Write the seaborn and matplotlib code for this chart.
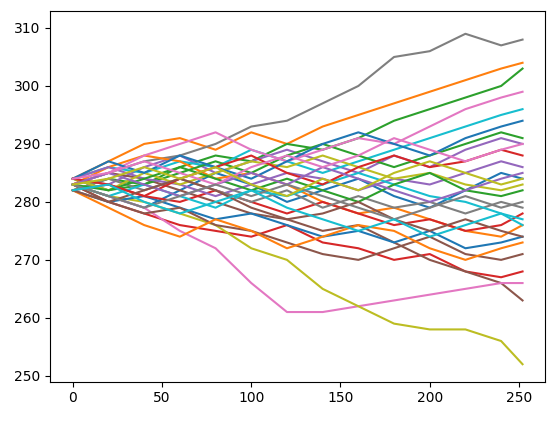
import matplotlib
matplotlib.use("Agg")
import matplotlib.pyplot as plt
import seaborn as sns
import pandas as pd

steps = [0, 20, 40, 60, 80, 100, 120, 140, 160, 180, 200, 220, 240, 252]

# price paths (one list per simulated path)
paths = [
    [283, 281, 279, 282, 285, 283, 280, 282, 284, 281, 279, 282, 285, 284],
    [284, 287, 290, 291, 289, 292, 290, 293, 295, 297, 299, 301, 303, 304],
    [282, 284, 283, 286, 288, 287, 290, 289, 291, 294, 296, 298, 300, 303],
    [283, 280, 278, 276, 275, 274, 276, 273, 272, 270, 271, 268, 267, 268],
    [284, 283, 286, 288, 285, 287, 289, 287, 285, 288, 286, 289, 291, 290],
    [283, 285, 284, 282, 280, 278, 277, 275, 276, 273, 270, 268, 266, 263],
    [283, 281, 279, 275, 272, 266, 261, 261, 262, 263, 264, 265, 266, 266],
    [283, 285, 287, 288, 290, 293, 294, 297, 300, 305, 306, 309, 307, 308],
    [283, 281, 280, 278, 276, 272, 270, 265, 262, 259, 258, 258, 256, 252],
    [284, 286, 285, 287, 286, 289, 287, 285, 287, 289, 291, 293, 295, 296],
    [282, 280, 281, 279, 277, 278, 276, 274, 275, 273, 275, 272, 273, 274],
    [283, 286, 288, 287, 284, 285, 283, 280, 278, 279, 277, 275, 274, 276],
    [284, 282, 283, 285, 287, 285, 288, 290, 288, 286, 288, 290, 292, 291],
    [282, 283, 281, 280, 282, 280, 278, 280, 278, 276, 277, 275, 276, 278],
    [284, 286, 284, 283, 281, 283, 285, 284, 282, 284, 283, 285, 287, 286],
    [283, 280, 278, 279, 276, 275, 273, 271, 270, 272, 274, 271, 270, 271],
    [283, 285, 288, 290, 292, 289, 287, 289, 291, 290, 293, 296, 298, 299],
    [282, 284, 282, 284, 282, 280, 282, 279, 281, 279, 280, 278, 280, 279],
    [284, 282, 285, 283, 285, 287, 286, 288, 286, 284, 285, 283, 282, 283],
    [283, 281, 283, 281, 279, 282, 281, 283, 285, 283, 281, 280, 278, 277],
    [284, 287, 285, 288, 286, 284, 287, 290, 292, 290, 288, 291, 293, 294],
    [282, 279, 276, 274, 277, 275, 272, 274, 276, 275, 272, 270, 272, 273],
    [283, 282, 284, 286, 284, 282, 284, 282, 280, 283, 285, 282, 281, 282],
    [284, 283, 281, 284, 286, 288, 285, 283, 286, 288, 286, 287, 289, 288],
    [283, 285, 283, 281, 283, 285, 283, 286, 284, 282, 280, 282, 284, 285],
    [282, 280, 282, 284, 282, 279, 277, 278, 280, 277, 275, 277, 275, 274],
    [284, 285, 287, 285, 283, 286, 288, 286, 288, 291, 289, 287, 289, 290],
    [283, 281, 279, 281, 283, 281, 283, 281, 279, 277, 279, 281, 279, 280],
    [283, 284, 286, 284, 286, 283, 281, 284, 282, 285, 287, 285, 283, 284],
    [282, 283, 280, 278, 280, 282, 279, 277, 275, 277, 274, 276, 278, 276],
]

colors = sns.color_palette("tab10", 10)

fig, ax = plt.subplots(figsize=(5.59, 4.24), dpi=100)
for i, p in enumerate(paths):
    df = pd.DataFrame({"step": steps, "price": p})
    sns.lineplot(data=df, x="step", y="price", ax=ax, color=colors[i % 10], linewidth=1.5)
ax.set_xlabel("")
ax.set_ylabel("")
ax.set_xlim(-12.6, 264.6)
ax.set_ylim(249, 313)
ax.set_xticks([0, 50, 100, 150, 200, 250])
ax.set_yticks([250, 260, 270, 280, 290, 300, 310])
fig.subplots_adjust(left=0.09, right=0.975, bottom=0.1, top=0.975)
fig.savefig("out.png", dpi=100)
